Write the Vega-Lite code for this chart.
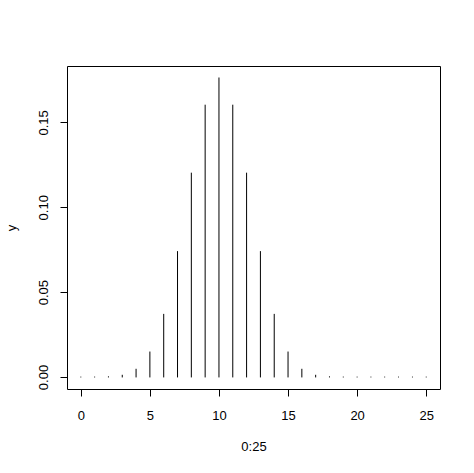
{
  "$schema": "https://vega.github.io/schema/vega-lite/v6.json",
  "width": 373,
  "height": 323,
  "autosize": "none",
  "padding": {"left": 67, "top": 66, "right": 34, "bottom": 84},
  "background": "white",
  "data": {
    "values": [
      {"k": 0, "p": 0.00000095},
      {"k": 1, "p": 0.000019},
      {"k": 2, "p": 0.000181},
      {"k": 3, "p": 0.001087},
      {"k": 4, "p": 0.004621},
      {"k": 5, "p": 0.014786},
      {"k": 6, "p": 0.036964},
      {"k": 7, "p": 0.073929},
      {"k": 8, "p": 0.120134},
      {"k": 9, "p": 0.160179},
      {"k": 10, "p": 0.176197},
      {"k": 11, "p": 0.160179},
      {"k": 12, "p": 0.120134},
      {"k": 13, "p": 0.073929},
      {"k": 14, "p": 0.036964},
      {"k": 15, "p": 0.014786},
      {"k": 16, "p": 0.004621},
      {"k": 17, "p": 0.001087},
      {"k": 18, "p": 0.000181},
      {"k": 19, "p": 0.000019},
      {"k": 20, "p": 0.00000095},
      {"k": 21, "p": 0},
      {"k": 22, "p": 0},
      {"k": 23, "p": 0},
      {"k": 24, "p": 0},
      {"k": 25, "p": 0}
    ]
  },
  "mark": {"type": "rule", "color": "black", "strokeWidth": 1, "strokeCap": "round"},
  "encoding": {
    "x": {
      "field": "k",
      "type": "quantitative",
      "title": "0:25",
      "scale": {"domain": [-1, 26], "nice": false, "zero": false},
      "axis": {
        "values": [0, 5, 10, 15, 20, 25],
        "grid": false,
        "domain": false,
        "tickSize": 7,
        "tickColor": "black",
        "labelPadding": 13,
        "titlePadding": 18
      }
    },
    "y": {
      "field": "p",
      "type": "quantitative",
      "title": "y",
      "scale": {"domain": [-0.00705, 0.1832], "nice": false, "zero": false},
      "axis": {
        "values": [0, 0.05, 0.1, 0.15],
        "format": ".2f",
        "grid": false,
        "domain": false,
        "tickSize": 7,
        "tickColor": "black",
        "labelAngle": -90,
        "labelAlign": "center",
        "labelBaseline": "bottom",
        "labelPadding": 10,
        "titlePadding": 19
      }
    },
    "y2": {"datum": 0}
  },
  "config": {
    "font": "Liberation Sans",
    "view": {"stroke": "black", "strokeWidth": 1},
    "axis": {
      "labelFont": "Liberation Sans",
      "titleFont": "Liberation Sans",
      "labelFontSize": 13,
      "titleFontSize": 13,
      "titleFontWeight": "normal",
      "labelColor": "black",
      "titleColor": "black",
      "labelFlush": false,
      "labelOverlap": false
    }
  }
}
